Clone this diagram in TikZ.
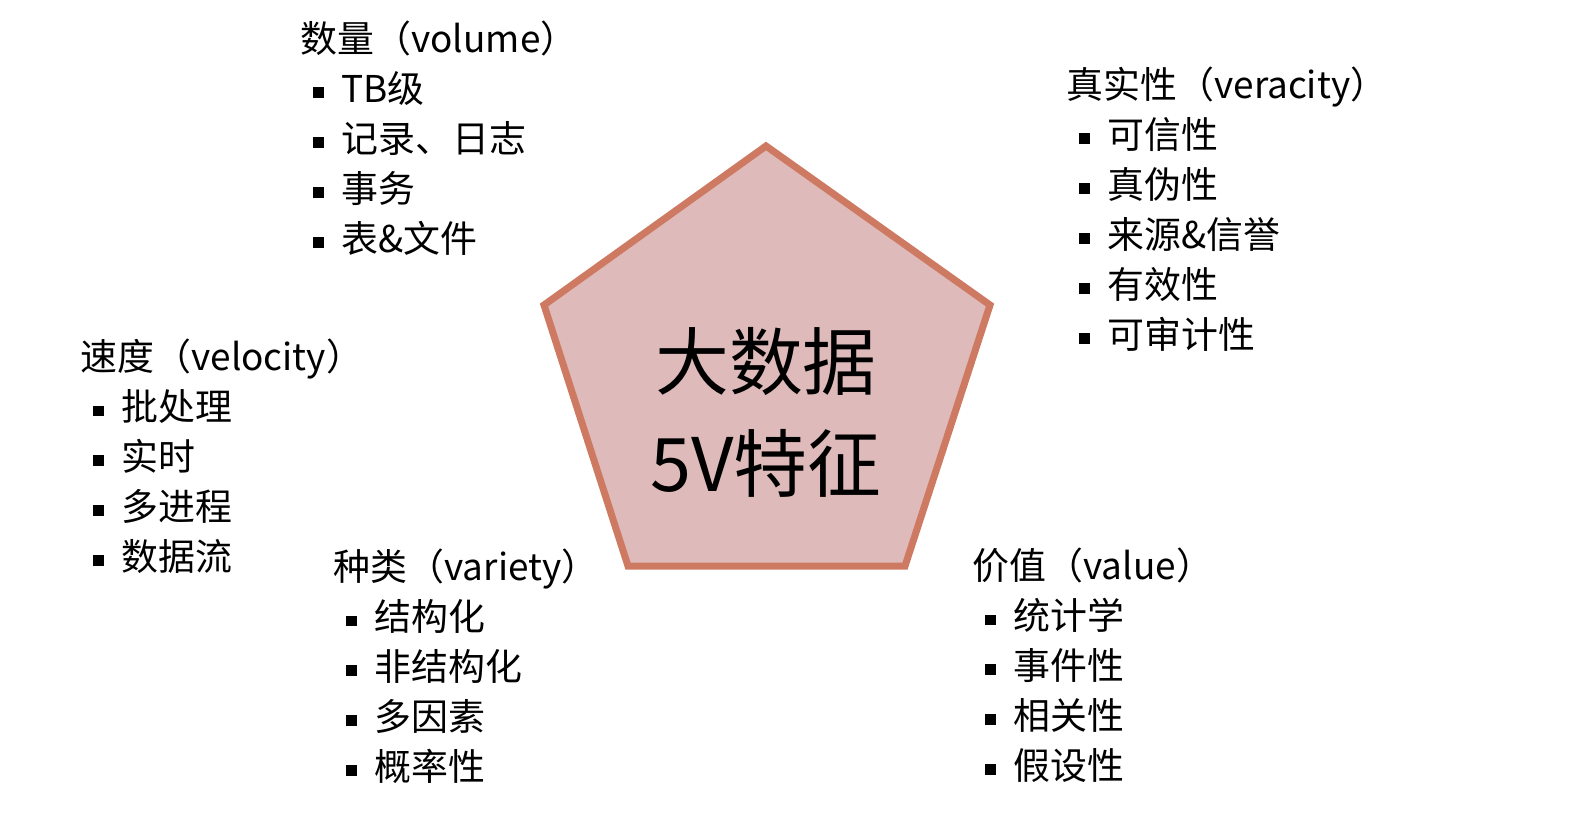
\documentclass[tikz,border=0pt]{standalone}
\usepackage{fontspec}
\setmainfont{Noto Sans CJK SC}
\definecolor{pfill}{RGB}{222,186,186}
\definecolor{pline}{RGB}{206,122,98}
\newcommand{\bl}{\hspace*{3.6pt}\rule[1.2pt]{3pt}{3pt}\hspace*{5pt}}
\begin{document}
\begin{tikzpicture}[x=0.01cm,y=-0.01cm,
  blk/.style={anchor=north west,inner sep=0pt,align=left,font=\fontsize{10.5}{14.2}\selectfont}]
\useasboundingbox (0,0) rectangle (1577,826);
\draw[pline,fill=pfill,line width=2pt,line join=miter]
  (766,146) -- (990,305) -- (905,566) -- (628,566) -- (544,305) -- cycle;
\node[align=center,font=\fontsize{21}{29}\selectfont] (c) at (766,412) {大数据\\5V特征};
\node[blk] (vol) at (300,20) {数量（volume）\\\bl TB级\\\bl 记录、日志\\\bl 事务\\\bl 表\&文件};
\node[blk] (ver) at (1066,66) {真实性（veracity）\\\bl 可信性\\\bl 真伪性\\\bl 来源\&信誉\\\bl 有效性\\\bl 可审计性};
\node[blk] (vel) at (80,338) {速度（velocity）\\\bl 批处理\\\bl 实时\\\bl 多进程\\\bl 数据流};
\node[blk] (var) at (333,548) {种类（variety）\\\bl 结构化\\\bl 非结构化\\\bl 多因素\\\bl 概率性};
\node[blk] (val) at (972,547) {价值（value）\\\bl 统计学\\\bl 事件性\\\bl 相关性\\\bl 假设性};
\end{tikzpicture}
\end{document}
